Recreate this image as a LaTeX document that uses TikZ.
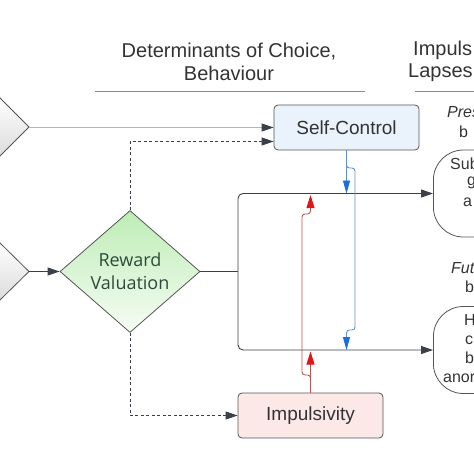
\documentclass[tikz,border=0pt]{standalone}
\usepackage{fontspec}
\setmainfont{Liberation Sans}
\newfontfamily\rvfont{Open Sans}
\usetikzlibrary{shapes.geometric,arrows.meta}
\definecolor{linec}{HTML}{3A3F48}
\definecolor{lightg}{HTML}{B4B4B4}
\definecolor{ulc}{HTML}{8A8A8A}
\definecolor{edgec}{HTML}{555555}
\definecolor{txt}{HTML}{333333}
\definecolor{scfill}{HTML}{EAF2FB}
\definecolor{impfill}{HTML}{FCE8E6}
\definecolor{rvtop}{HTML}{BDEDB5}
\definecolor{rvbot}{HTML}{F6FCF4}
\definecolor{rvtext}{HTML}{2E4A3A}
\definecolor{blueL}{HTML}{5E90D0}
\definecolor{blueA}{HTML}{1C6FE0}
\definecolor{redL}{HTML}{C05555}
\definecolor{redA}{HTML}{E01515}
\begin{document}
\begin{tikzpicture}[x=1pt,y=-1pt,
  conn/.style={draw=linec, line width=0.9pt},
  tip/.style={-{Triangle[length=12pt,width=8pt,color=linec]}},
  dashes/.style={dash pattern=on 3pt off 2.5pt},
  box/.style={draw=edgec, line width=0.8pt, rounded corners=4pt, minimum width=145pt, minimum height=45pt, inner sep=0pt, text=txt, font=\fontsize{19}{23}\selectfont},
  ovalbox/.style={draw=edgec, line width=0.8pt, rounded corners=30pt, minimum width=150pt, minimum height=87pt, inner sep=0pt},
  gdiam/.style={draw=edgec, line width=0.8pt, top color=white, bottom color=gray!28},
  title/.style={text=txt, font=\fontsize{20}{23}\selectfont, inner sep=0pt},
  side/.style={text=txt, font=\fontsize{16}{19}\selectfont, inner sep=0pt, anchor=west},
  uline/.style={draw=ulc, line width=0.8pt},
  bl/.style={draw=blueL, line width=0.9pt},
  rl/.style={draw=redL, line width=0.9pt},
  btip/.style={-{Triangle[length=13pt,width=7pt,color=blueA]}},
  rtip/.style={-{Triangle[length=13pt,width=8pt,color=redA]}}
]
\useasboundingbox (0,0) rectangle (474,474);
\clip (0,0) rectangle (474,474);

% titles
\node[title, align=center] (t1) at (229,61.5) {Determinants of Choice,\\Behaviour};
\draw[uline] (95,91) -- (365,91);
\node[title, anchor=west] (t2a) at (413,50) {Impuls};
\node[title, anchor=west] (t2b) at (408,73) {Lapses};
\draw[uline] (415,91) -- (480,91);

% left diamonds (cut off)
\draw[gdiam] (-1,97) -- (29,127) -- (-1,157) -- (-31,127) -- cycle;
\coordinate (d1) at (29,127.5);
\draw[gdiam] (-1,242) -- (29,271.5) -- (-1,301) -- (-31,271.5) -- cycle;
\coordinate (d2) at (29,271.5);

% main nodes
\node[box, fill=scfill] (sc) at (346.5,127.5) {Self-Control};
\node[box, fill=impfill] (imp) at (310.5,415.5) {Impulsivity};
\node[diamond, aspect=1.15, minimum width=140pt, minimum height=122pt, inner sep=0pt,
      draw=edgec, line width=0.8pt, top color=rvtop, bottom color=rvbot, align=center,
      text=rvtext, font=\rvfont\fontsize{18}{23}\selectfont] (rv) at (130,271.5) {Reward\\Valuation};

% outcome ovals
\node[ovalbox, anchor=west] (sub) at (433,193.5) {};
\node[ovalbox, anchor=west] (hov) at (433,350) {};

% right column texts
\node[side, font=\fontsize{16}{19}\selectfont\itshape] (pres) at (447,112) {Pres};
\node[side] (presb) at (459,132) {b};
\node[side] (s1) at (450,164) {Sub};
\node[side] (s2) at (467,183) {g};
\node[side] (s3) at (463,202) {a};
\node[side, font=\fontsize{16}{19}\selectfont\itshape] (fut) at (451,268) {Fut};
\node[side] (futb) at (465,287) {b};
\node[side] (h1) at (464,320) {H};
\node[side] (h2) at (465,340) {c};
\node[side] (h3) at (465,358) {b};
\node[side] (h4) at (443,378) {anor};

% connectors
\draw[draw=lightg, line width=0.9pt, tip] (d1) -- (sc.west);
\draw[conn, tip] (d2) -- (rv.west);
\draw[conn, dashes, tip] (rv.north) |- ([yshift=-14pt]sc.west);
\draw[conn, dashes, tip] (rv.south) |- (imp.west);

\coordinate (jn) at (238,271.5);
\draw[conn] (rv.east) -- (jn);
\draw[conn, tip, rounded corners=5pt] (jn) |- (sub.west);
\draw[conn, tip, rounded corners=5pt] (jn) |- (hov.west);

% self-control (blue)
\draw[bl, btip] (sc.south) -- (sc.south |- sub.west);
\draw[bl, btip, rounded corners=3pt] (sc.south) -- (346.5,168) -- (355,168) -- (355,330) -- (346.5,330) -- (sc.south |- hov.west);

% impulsivity (red)
\draw[rl, rtip] (imp.north) -- ([yshift=-1.5pt]imp.north |- hov.west);
\draw[rl, rtip, rounded corners=3pt] (imp.north) -- (310.5,375) -- (302,375) -- (302,214) -- (310.5,214) -- ([yshift=-1.5pt]imp.north |- sub.west);
\end{tikzpicture}
\end{document}
